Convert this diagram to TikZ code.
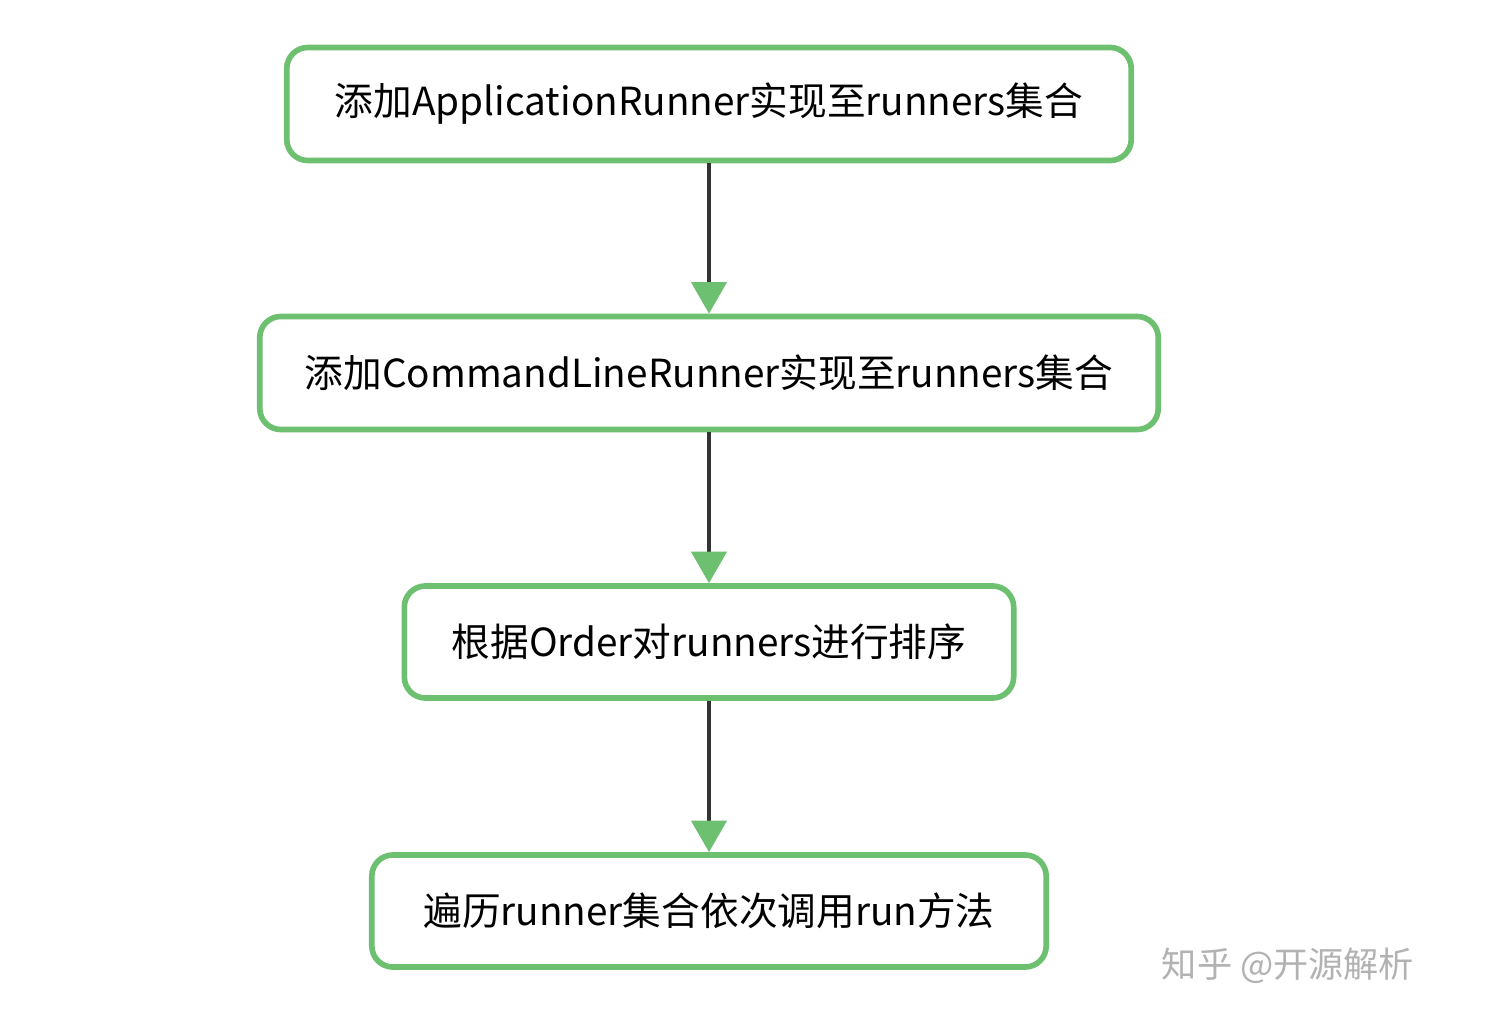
\documentclass[tikz,border=0pt]{standalone}
\usepackage{fontspec}
\setmainfont{Noto Sans CJK SC}
\usetikzlibrary{arrows.meta}
\definecolor{bgreen}{HTML}{6CC070}
\definecolor{agray}{HTML}{333333}
\begin{document}
\begin{tikzpicture}[x=0.01cm,y=-0.01cm,
  box/.style={draw=bgreen,line width=1.6pt,rounded corners=6pt,fill=white,font=\fontsize{11}{13}\selectfont,inner sep=0pt},
  arr/.style={draw=agray,line width=1.2pt,-{Triangle[color=bgreen,fill=bgreen,length=9pt,width=10pt]}}]
\useasboundingbox[fill=white] (0,0) rectangle (1485,1027);
\node[box,minimum width=8.44cm,minimum height=1.13cm] (a) at (709,104) {添加ApplicationRunner实现至runners集合};
\node[box,minimum width=8.98cm,minimum height=1.13cm] (b) at (709,373) {添加CommandLineRunner实现至runners集合};
\node[box,minimum width=6.09cm,minimum height=1.12cm] (c) at (709,642) {根据Order对runners进行排序};
\node[box,minimum width=6.74cm,minimum height=1.12cm] (d) at (709,911) {遍历runner集合依次调用run方法};
\draw[arr] (a) -- (b);
\draw[arr] (b) -- (c);
\draw[arr] (c) -- (d);
\node[text=gray!60,font=\fontsize{10}{12}\selectfont] (w) at (1288,966) {知乎 @开源解析};
\end{tikzpicture}
\end{document}
